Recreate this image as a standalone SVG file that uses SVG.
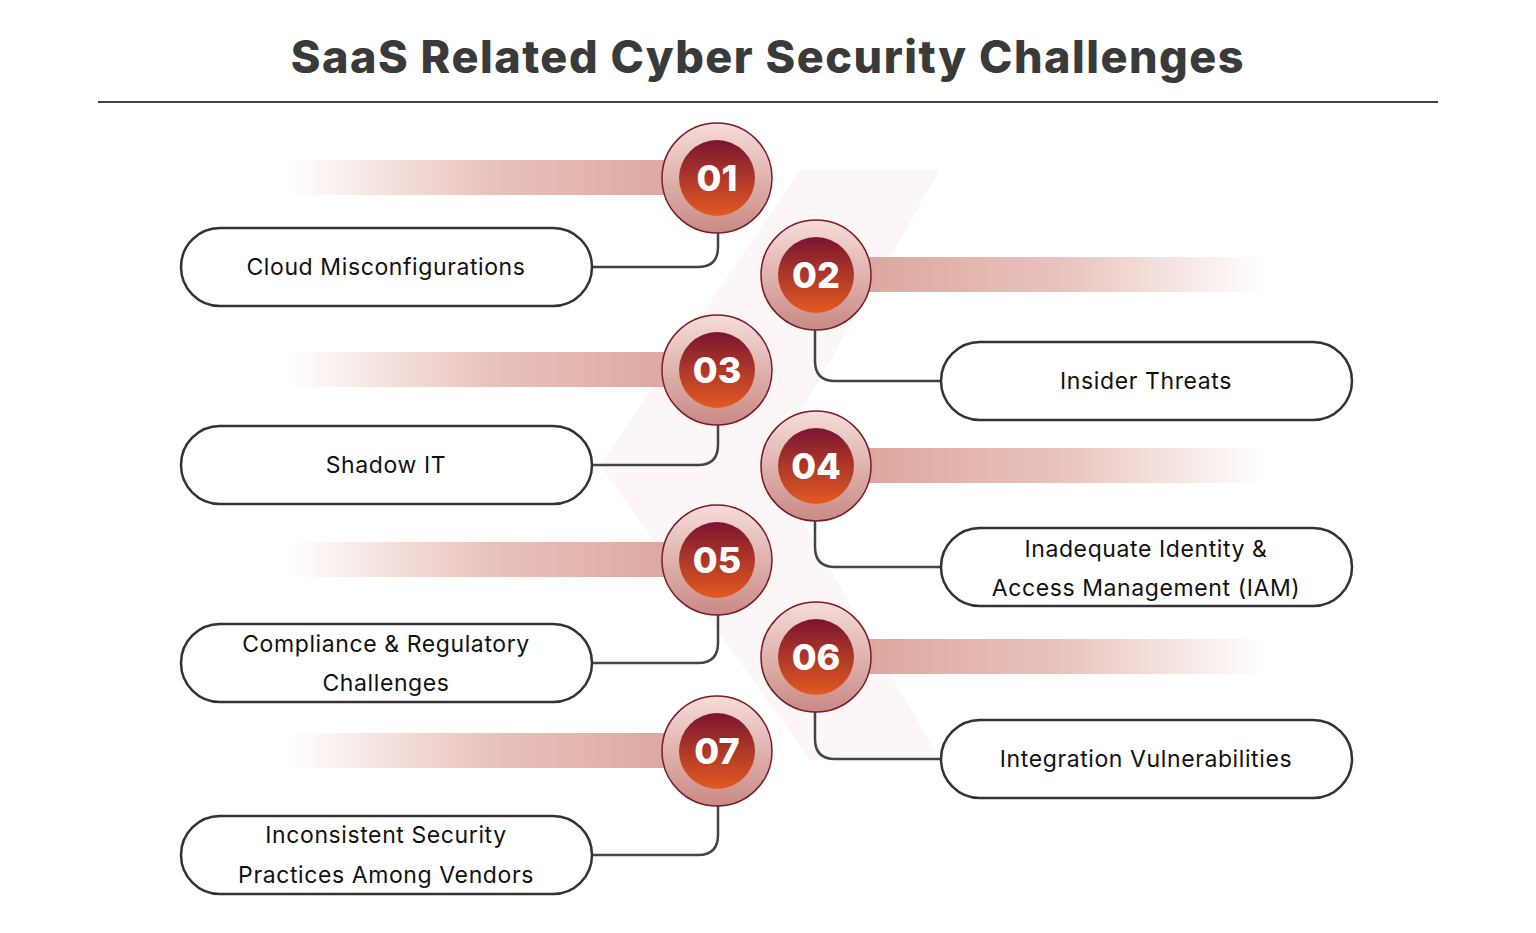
<svg xmlns="http://www.w3.org/2000/svg" width="1536" height="933" viewBox="0 0 1536 933">
<defs>
<style>
.t{font-family:Inter,"Open Sans",sans-serif;font-size:23px;letter-spacing:0.6px;fill:#111;text-anchor:middle}
.n{font-family:Inter,"Open Sans",sans-serif;font-size:36px;font-weight:800;fill:#fff;text-anchor:middle}
.box{fill:#fff;stroke:#333;stroke-width:2.5}
.con{fill:none;stroke:#444;stroke-width:2.5}
.outer{fill:url(#og);stroke:#7a1a2a;stroke-width:1.5}
.inner{fill:url(#ig)}
</style>
<linearGradient id="lb" x1="0" x2="1"><stop offset="0" stop-color="#e3b3ab" stop-opacity="0"/><stop offset="0.5" stop-color="#e3b3ab" stop-opacity="0.8"/><stop offset="1" stop-color="#dba49c"/></linearGradient>
<linearGradient id="rb" x1="1" x2="0"><stop offset="0" stop-color="#e3b3ab" stop-opacity="0"/><stop offset="0.5" stop-color="#e3b3ab" stop-opacity="0.8"/><stop offset="1" stop-color="#dba49c"/></linearGradient>
<linearGradient id="og" x1="0" y1="0" x2="0" y2="1"><stop offset="0" stop-color="#f5dcd8"/><stop offset="1" stop-color="#c98a84"/></linearGradient>
<linearGradient id="ig" x1="0" y1="0" x2="0" y2="1"><stop offset="0" stop-color="#7a1530"/><stop offset="1" stop-color="#e25a20"/></linearGradient>
</defs>
<rect width="1536" height="933" fill="#fff"/>
<text x="768" y="73" font-family="Inter,'Open Sans',sans-serif" font-size="45" font-weight="800" letter-spacing="1.5" fill="#3a3a3a" text-anchor="middle">SaaS Related Cyber Security Challenges</text>
<line x1="98" y1="102" x2="1438" y2="102" stroke="#444" stroke-width="2"/>
<polygon points="800,170 940,170 770,465 940,760 810,760 600,465" fill="#fbeeee" opacity="0.5"/>
<g id="bars">
<rect x="290" y="160" width="400" height="35" fill="url(#lb)"/>
<rect x="850" y="257" width="415" height="35" fill="url(#rb)"/>
<rect x="290" y="352" width="400" height="35" fill="url(#lb)"/>
<rect x="850" y="448" width="415" height="35" fill="url(#rb)"/>
<rect x="290" y="542" width="400" height="35" fill="url(#lb)"/>
<rect x="850" y="639" width="415" height="35" fill="url(#rb)"/>
<rect x="290" y="733" width="400" height="35" fill="url(#lb)"/>
</g>
<g id="connectors">
<path class="con" d="M718,230 V247 Q718,267 698,267 H592"/>
<path class="con" d="M815,326 V361 Q815,381 835,381 H941"/>
<path class="con" d="M718,422 V445 Q718,465 698,465 H592"/>
<path class="con" d="M815,518 V547 Q815,567 835,567 H941"/>
<path class="con" d="M718,612 V643 Q718,663 698,663 H592"/>
<path class="con" d="M815,708 V739 Q815,759 835,759 H941"/>
<path class="con" d="M718,803 V835 Q718,855 698,855 H592"/>
</g>
<g id="n1"><circle class="outer" cx="717" cy="178" r="55"/><circle class="inner" cx="717" cy="178" r="38"/><text class="n" x="717" y="191">01</text><rect class="box" x="181" y="228" width="411" height="78" rx="39"/><text class="t" x="386" y="275">Cloud Misconfigurations</text></g>
<g id="n2"><circle class="outer" cx="816" cy="275" r="55"/><circle class="inner" cx="816" cy="275" r="38"/><text class="n" x="816" y="288">02</text><rect class="box" x="941" y="342" width="411" height="78" rx="39"/><text class="t" x="1146" y="389">Insider Threats</text></g>
<g id="n3"><circle class="outer" cx="717" cy="370" r="55"/><circle class="inner" cx="717" cy="370" r="38"/><text class="n" x="717" y="383">03</text><rect class="box" x="181" y="426" width="411" height="78" rx="39"/><text class="t" x="386" y="473">Shadow IT</text></g>
<g id="n4"><circle class="outer" cx="816" cy="466" r="55"/><circle class="inner" cx="816" cy="466" r="38"/><text class="n" x="816" y="479">04</text><rect class="box" x="941" y="528" width="411" height="78" rx="39"/><text class="t" x="1146" y="557">Inadequate Identity &amp;</text><text class="t" x="1146" y="596">Access Management (IAM)</text></g>
<g id="n5"><circle class="outer" cx="717" cy="560" r="55"/><circle class="inner" cx="717" cy="560" r="38"/><text class="n" x="717" y="573">05</text><rect class="box" x="181" y="624" width="411" height="78" rx="39"/><text class="t" x="386" y="652">Compliance &amp; Regulatory</text><text class="t" x="386" y="691">Challenges</text></g>
<g id="n6"><circle class="outer" cx="816" cy="657" r="55"/><circle class="inner" cx="816" cy="657" r="38"/><text class="n" x="816" y="670">06</text><rect class="box" x="941" y="720" width="411" height="78" rx="39"/><text class="t" x="1146" y="767">Integration Vulnerabilities</text></g>
<g id="n7"><circle class="outer" cx="717" cy="751" r="55"/><circle class="inner" cx="717" cy="751" r="38"/><text class="n" x="717" y="764">07</text><rect class="box" x="181" y="816" width="411" height="78" rx="39"/><text class="t" x="386" y="843">Inconsistent Security</text><text class="t" x="386" y="883">Practices Among Vendors</text></g>
</svg>
